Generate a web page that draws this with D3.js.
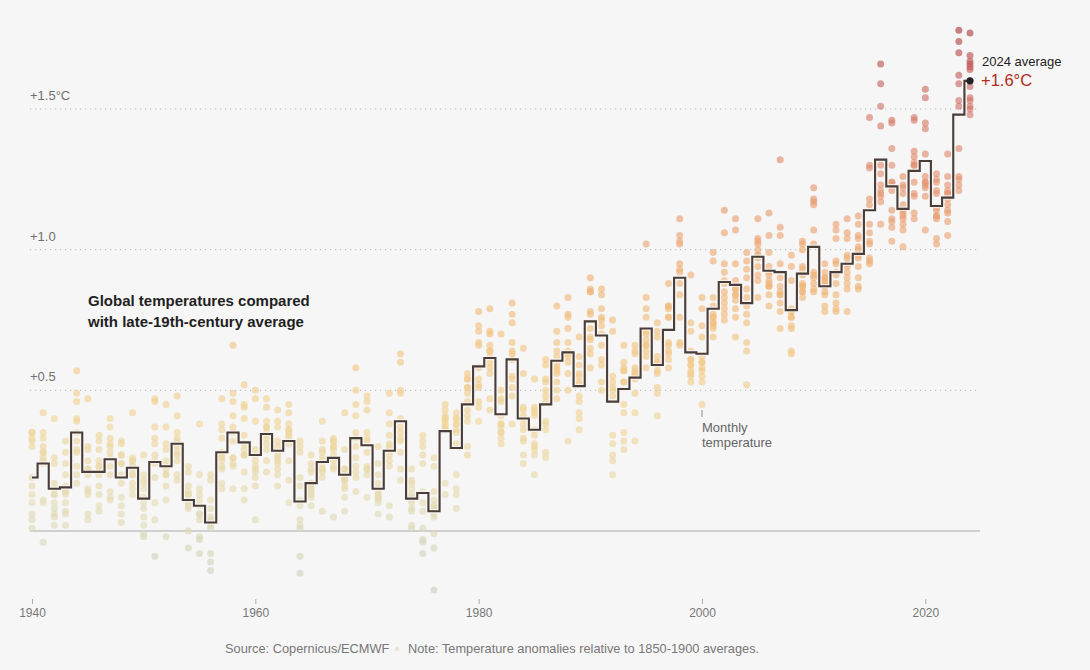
<!DOCTYPE html>
<html>
<head>
<meta charset="utf-8">
<script src="https://cdn.jsdelivr.net/npm/d3@7"></script>
<style>
  body { margin: 0; background: #f6f6f6; }
  svg { display: block; font-family: "Liberation Sans", Arial, sans-serif; }
</style>
</head>
<body>
<div id="chart"></div>
<script>
// annual average anomaly, 1940-2024 (°C vs 1850-1900)
var years = d3.range(1940, 2025);
var annual = [
  0.19, 0.24, 0.15, 0.155, 0.35, 0.21, 0.21, 0.255, 0.19, 0.225,
  0.115, 0.245, 0.23, 0.31, 0.11, 0.09, 0.03, 0.28, 0.35, 0.315,
  0.27, 0.345, 0.285, 0.32, 0.105, 0.17, 0.245, 0.26, 0.20, 0.33,
  0.305, 0.15, 0.285, 0.39, 0.115, 0.135, 0.07, 0.355, 0.295, 0.45,
  0.585, 0.615, 0.415, 0.61, 0.40, 0.36, 0.45, 0.605, 0.635, 0.515,
  0.745, 0.695, 0.46, 0.505, 0.545, 0.72, 0.59, 0.715, 0.90, 0.635,
  0.63, 0.79, 0.885, 0.875, 0.81, 0.975, 0.925, 0.92, 0.785, 0.915,
  1.01, 0.87, 0.92, 0.95, 0.985, 1.14, 1.32, 1.225, 1.145, 1.28,
  1.315, 1.155, 1.185, 1.48, 1.60
];

// monthly anomalies, one row of 12 per year
var monthly1940s = [
  [0.35, 0.33, 0.30, 0.19, 0.16, 0.13, 0.10, 0.06, 0.04, 0.01, 0.35, 0.32],
  [0.42, 0.35, 0.33, 0.28, 0.26, 0.11, 0.10, -0.04, 0.30, 0.28, 0.25, 0.24],
  [0.40, 0.26, 0.24, 0.17, 0.15, 0.13, 0.10, 0.08, 0.06, 0.05, 0.02, 0.13],
  [0.32, 0.28, 0.24, 0.20, 0.14, 0.10, 0.07, 0.06, 0.02, 0.16, 0.14, 0.13],
  [0.57, 0.49, 0.46, 0.40, 0.39, 0.35, 0.32, 0.29, 0.20, 0.17, 0.28, 0.23],
  [0.47, 0.30, 0.29, 0.25, 0.22, 0.15, 0.14, 0.13, 0.06, 0.04, 0.22, 0.20],
  [0.34, 0.32, 0.29, 0.23, 0.21, 0.16, 0.13, 0.09, 0.07, 0.25, 0.23, 0.20],
  [0.40, 0.37, 0.33, 0.30, 0.26, 0.23, 0.20, 0.14, 0.12, 0.11, 0.31, 0.28],
  [0.32, 0.31, 0.27, 0.24, 0.20, 0.17, 0.12, 0.09, 0.06, 0.03, 0.27, 0.24],
  [0.42, 0.26, 0.25, 0.23, 0.20, 0.17, 0.15, 0.13, 0.25, 0.23, 0.22, 0.20]
];
var monthly1950s = [
  [0.27, 0.20, 0.18, 0.17, 0.15, 0.12, 0.10, 0.08, 0.05, 0.02, -0.01, -0.02],
  [0.47, 0.46, 0.37, 0.33, 0.31, 0.24, 0.19, 0.10, 0.04, -0.09, 0.27, 0.25],
  [0.45, 0.37, 0.31, 0.29, 0.25, 0.23, 0.20, 0.16, 0.11, -0.02, 0.22, 0.20],
  [0.48, 0.41, 0.35, 0.33, 0.31, 0.27, 0.25, 0.20, 0.18, 0.32, 0.30, 0.28],
  [0.23, 0.21, 0.16, 0.14, 0.13, 0.09, 0.08, 0.00, -0.06, 0.13, 0.11, 0.10],
  [0.38, 0.20, 0.15, 0.13, 0.11, 0.06, 0.04, -0.02, -0.03, -0.08, 0.09, 0.06],
  [0.20, 0.18, 0.11, 0.08, 0.05, 0.03, -0.08, -0.11, -0.14, 0.04, 0.02, 0.01],
  [0.47, 0.38, 0.36, 0.33, 0.28, 0.27, 0.25, 0.22, 0.17, 0.15, 0.26, 0.23],
  [0.66, 0.49, 0.46, 0.41, 0.37, 0.35, 0.32, 0.26, 0.23, 0.15, 0.26, 0.24],
  [0.52, 0.45, 0.44, 0.40, 0.34, 0.31, 0.27, 0.21, 0.15, 0.11, 0.29, 0.27]
];
var monthly1960s = [
  [0.50, 0.47, 0.39, 0.29, 0.27, 0.25, 0.22, 0.19, 0.16, 0.04, 0.23, 0.21],
  [0.47, 0.44, 0.39, 0.37, 0.34, 0.31, 0.29, 0.25, 0.21, 0.37, 0.35, 0.33],
  [0.43, 0.39, 0.37, 0.32, 0.30, 0.26, 0.24, 0.20, 0.16, 0.27, 0.25, 0.22],
  [0.45, 0.42, 0.38, 0.36, 0.35, 0.31, 0.25, 0.18, 0.10, 0.36, 0.34, 0.33],
  [0.32, 0.30, 0.28, 0.19, 0.16, 0.04, 0.02, 0.01, -0.09, -0.15, 0.11, 0.09],
  [0.27, 0.24, 0.22, 0.21, 0.17, 0.13, 0.12, 0.09, 0.17, 0.16, 0.15, 0.14],
  [0.39, 0.32, 0.29, 0.25, 0.22, 0.19, 0.07, 0.28, 0.26, 0.24, 0.22, 0.21],
  [0.33, 0.32, 0.26, 0.25, 0.23, 0.22, 0.05, 0.32, 0.30, 0.30, 0.29, 0.27],
  [0.42, 0.29, 0.22, 0.18, 0.15, 0.12, 0.07, 0.22, 0.20, 0.19, 0.18, 0.16],
  [0.58, 0.50, 0.45, 0.41, 0.35, 0.33, 0.30, 0.26, 0.23, 0.19, 0.14, 0.21]
];
var monthly1970s = [
  [0.48, 0.46, 0.43, 0.35, 0.33, 0.32, 0.28, 0.23, 0.22, 0.12, 0.22, 0.20],
  [0.30, 0.24, 0.20, 0.17, 0.14, 0.12, 0.10, 0.06, 0.15, 0.13, 0.12, 0.11],
  [0.49, 0.42, 0.38, 0.34, 0.30, 0.25, 0.23, 0.09, 0.05, 0.31, 0.29, 0.27],
  [0.63, 0.60, 0.50, 0.49, 0.35, 0.32, 0.28, 0.22, 0.18, 0.40, 0.37, 0.33],
  [0.22, 0.18, 0.17, 0.15, 0.13, 0.11, 0.02, 0.01, 0.12, 0.10, 0.08, 0.07],
  [0.34, 0.32, 0.30, 0.27, 0.24, 0.14, 0.07, 0.01, -0.03, -0.04, -0.08, 0.10],
  [0.26, 0.23, 0.14, 0.11, 0.09, 0.05, -0.01, -0.06, -0.21, 0.09, 0.08, 0.06],
  [0.45, 0.43, 0.41, 0.40, 0.38, 0.36, 0.17, 0.13, 0.40, 0.39, 0.37, 0.36],
  [0.42, 0.40, 0.38, 0.36, 0.31, 0.20, 0.15, 0.13, 0.08, 0.40, 0.38, 0.35],
  [0.54, 0.51, 0.49, 0.46, 0.43, 0.41, 0.39, 0.30, 0.27, 0.56, 0.54, 0.51]
];
var monthly1980s = [
  [0.78, 0.73, 0.71, 0.67, 0.66, 0.58, 0.52, 0.46, 0.44, 0.39, 0.54, 0.51],
  [0.79, 0.71, 0.70, 0.64, 0.58, 0.56, 0.47, 0.43, 0.66, 0.64, 0.62, 0.60],
  [0.70, 0.50, 0.47, 0.46, 0.41, 0.38, 0.37, 0.35, 0.33, 0.31, 0.38, 0.35],
  [0.81, 0.77, 0.74, 0.63, 0.55, 0.54, 0.51, 0.48, 0.38, 0.67, 0.64, 0.61],
  [0.65, 0.56, 0.44, 0.41, 0.36, 0.33, 0.32, 0.27, 0.24, 0.43, 0.40, 0.38],
  [0.54, 0.44, 0.43, 0.42, 0.41, 0.30, 0.29, 0.27, 0.20, 0.36, 0.34, 0.31],
  [0.61, 0.59, 0.54, 0.53, 0.48, 0.39, 0.38, 0.36, 0.28, 0.26, 0.50, 0.46],
  [0.80, 0.71, 0.67, 0.64, 0.59, 0.57, 0.53, 0.50, 0.47, 0.62, 0.58, 0.56],
  [0.83, 0.77, 0.76, 0.72, 0.67, 0.63, 0.62, 0.56, 0.50, 0.32, 0.64, 0.60],
  [0.69, 0.62, 0.59, 0.56, 0.53, 0.48, 0.46, 0.42, 0.40, 0.36, 0.55, 0.52]
];
var monthly1990s = [
  [0.86, 0.85, 0.78, 0.77, 0.72, 0.69, 0.68, 0.65, 0.63, 0.58, 0.90, 0.85],
  [0.86, 0.84, 0.79, 0.75, 0.70, 0.66, 0.61, 0.59, 0.53, 0.50, 0.76, 0.73],
  [0.75, 0.71, 0.53, 0.51, 0.48, 0.34, 0.31, 0.27, 0.25, 0.20, 0.55, 0.50],
  [0.66, 0.60, 0.58, 0.57, 0.53, 0.53, 0.45, 0.42, 0.35, 0.32, 0.29, 0.57],
  [0.66, 0.64, 0.63, 0.57, 0.56, 0.55, 0.49, 0.42, 0.32, 0.58, 0.56, 0.54],
  [1.02, 0.83, 0.79, 0.76, 0.71, 0.70, 0.68, 0.66, 0.66, 0.64, 0.62, 0.58],
  [0.74, 0.71, 0.69, 0.60, 0.56, 0.51, 0.49, 0.41, 0.62, 0.60, 0.59, 0.57],
  [0.88, 0.80, 0.79, 0.76, 0.67, 0.66, 0.64, 0.63, 0.61, 0.58, 0.80, 0.76],
  [1.11, 1.05, 1.03, 1.02, 0.95, 0.93, 0.92, 0.88, 0.84, 0.76, 0.67, 0.66],
  [0.91, 0.74, 0.71, 0.61, 0.59, 0.57, 0.55, 0.53, 0.64, 0.61, 0.59, 0.56]
];
var monthly2000s = [
  [0.83, 0.79, 0.73, 0.69, 0.60, 0.57, 0.55, 0.53, 0.45, 0.62, 0.60, 0.58],
  [0.99, 0.96, 0.83, 0.80, 0.77, 0.76, 0.74, 0.73, 0.69, 0.76, 0.74, 0.72],
  [1.14, 1.06, 0.95, 0.89, 0.85, 0.83, 0.81, 0.79, 0.77, 0.75, 0.92, 0.88],
  [1.11, 1.07, 0.95, 0.89, 0.86, 0.79, 0.76, 0.69, 0.86, 0.84, 0.84, 0.82],
  [0.99, 0.96, 0.93, 0.90, 0.86, 0.83, 0.77, 0.74, 0.67, 0.64, 0.52, 0.80],
  [1.11, 1.04, 1.03, 1.02, 0.98, 0.94, 0.91, 0.89, 0.83, 1.00, 0.98, 0.97],
  [1.13, 1.05, 0.99, 0.94, 0.92, 0.87, 0.84, 0.80, 0.91, 0.89, 0.88, 0.87],
  [1.32, 1.08, 1.05, 0.95, 0.85, 0.84, 0.81, 0.78, 0.72, 0.90, 0.87, 0.84],
  [0.98, 0.94, 0.89, 0.79, 0.78, 0.76, 0.72, 0.64, 0.63, 0.78, 0.76, 0.73],
  [1.03, 1.02, 1.00, 0.94, 0.93, 0.87, 0.85, 0.83, 0.91, 0.88, 0.87, 0.85]
];
var monthly2010s = [
  [1.22, 1.18, 1.17, 1.16, 1.07, 1.02, 0.92, 0.91, 0.85, 0.90, 0.88, 0.86],
  [0.95, 0.92, 0.90, 0.89, 0.87, 0.84, 0.80, 0.78, 0.90, 0.88, 0.87, 0.85],
  [1.09, 1.07, 1.04, 0.96, 0.95, 0.92, 0.88, 0.84, 0.81, 0.79, 0.78, 0.91],
  [1.11, 1.06, 1.04, 0.98, 0.97, 0.94, 0.90, 0.88, 0.86, 0.78, 0.95, 0.92],
  [1.12, 1.09, 1.05, 1.04, 1.01, 0.94, 0.90, 0.87, 0.86, 1.00, 0.98, 0.97],
  [1.47, 1.30, 1.29, 1.18, 1.16, 1.09, 1.06, 1.03, 0.96, 0.95, 1.02, 0.97],
  [1.66, 1.59, 1.51, 1.44, 1.30, 1.27, 1.20, 1.17, 1.09, 1.23, 1.21, 1.19],
  [1.46, 1.45, 1.36, 1.30, 1.24, 1.21, 1.14, 1.11, 1.10, 1.08, 1.03, 1.24],
  [1.26, 1.23, 1.22, 1.20, 1.09, 1.07, 1.01, 1.16, 1.14, 1.13, 1.12, 1.11],
  [1.47, 1.46, 1.35, 1.30, 1.24, 1.20, 1.19, 1.13, 1.11, 1.33, 1.31, 1.30]
];
var monthly2020s = [
  [1.57, 1.54, 1.45, 1.43, 1.34, 1.24, 1.23, 1.19, 1.07, 1.26, 1.24, 1.22],
  [1.27, 1.25, 1.24, 1.21, 1.20, 1.14, 1.12, 1.11, 1.04, 1.02, 1.15, 1.12],
  [1.34, 1.26, 1.20, 1.18, 1.16, 1.14, 1.13, 1.10, 1.05, 1.23, 1.21, 1.20],
  [1.78, 1.74, 1.70, 1.53, 1.51, 1.36, 1.26, 1.25, 1.23, 1.21, 1.62, 1.59],
  [1.77, 1.69, 1.67, 1.65, 1.58, 1.54, 1.53, 1.51, 1.50, 1.48, 1.66, 1.64]
];

var yTicks = [0.5, 1.0, 1.5];
var yTickLabels = ["+0.5", "+1.0", "+1.5°C"];
var xTicks = [1940, 1960, 1980, 2000, 2020];

var monthly = [].concat(monthly1940s, monthly1950s, monthly1960s, monthly1970s,
  monthly1980s, monthly1990s, monthly2000s, monthly2010s, monthly2020s);

var w = 1090, h = 670;
var left = 30, right = 980;

var svg = d3.select("#chart").append("svg")
    .attr("width", w)
    .attr("height", h);

var xScale = d3.scaleLinear().domain([1940, 2024]).range([32, 970]);
var yScale = d3.scaleLinear().domain([0, 1.5]).range([531, 109]);

var color = d3.scaleLinear()
    .domain([-0.2, 0.1, 0.4, 0.7, 1.0, 1.3, 1.55, 1.8])
    .range(["#cdcfc2", "#e4dcb4", "#f1d495", "#f2c27f", "#eeaa74", "#e28f70", "#cf716a", "#a9393b"])
    .clamp(true);

// gridlines
svg.selectAll(".grid")
   .data(yTicks)
   .enter()
   .append("line")
   .attr("class", "grid")
   .attr("x1", left)
   .attr("x2", right)
   .attr("y1", function(d) { return yScale(d); })
   .attr("y2", function(d) { return yScale(d); })
   .attr("stroke", "#b5b5b5")
   .attr("stroke-width", 1)
   .attr("stroke-dasharray", "1.2,3.8");

svg.selectAll(".ylabel")
   .data(yTicks)
   .enter()
   .append("text")
   .attr("class", "ylabel")
   .attr("x", left)
   .attr("y", function(d) { return yScale(d) - 9; })
   .attr("fill", "#707070")
   .attr("font-size", 13)
   .text(function(d, i) { return yTickLabels[i]; });

// zero line
svg.append("line")
   .attr("x1", left)
   .attr("x2", right)
   .attr("y1", yScale(0))
   .attr("y2", yScale(0))
   .attr("stroke", "#a8a8a8")
   .attr("stroke-width", 1.2);

// x axis
var xAxis = d3.axisBottom(xScale)
    .tickValues(xTicks)
    .tickFormat(d3.format("d"))
    .tickSize(5)
    .tickPadding(4);
var gx = svg.append("g")
   .attr("transform", "translate(0,599)")
   .call(xAxis);
gx.select(".domain").remove();
gx.selectAll("line").attr("stroke", "#aaa");
gx.selectAll("text")
  .attr("fill", "#777")
  .attr("font-size", 12)
  .attr("font-family", "Liberation Sans, Arial, sans-serif");

// monthly dots
var points = [];
years.forEach(function(yr, i) {
  monthly[i].forEach(function(v) {
    points.push({ year: yr, value: v });
  });
});

svg.selectAll(".month")
   .data(points)
   .enter()
   .append("circle")
   .attr("class", "month")
   .attr("cx", function(d) { return xScale(d.year); })
   .attr("cy", function(d) { return yScale(d.value); })
   .attr("r", 3.5)
   .attr("fill", function(d) { return color(d.value); })
   .attr("fill-opacity", 0.64);

// annual step line
var yearData = years.map(function(yr, i) { return { year: yr, value: annual[i] }; });
var stepLine = d3.line()
    .x(function(d) { return xScale(d.year); })
    .y(function(d) { return yScale(d.value); })
    .curve(d3.curveStep);

svg.append("path")
   .datum(yearData)
   .attr("d", stepLine)
   .attr("fill", "none")
   .attr("stroke", "#f6f6f6")
   .attr("stroke-opacity", 0.8)
   .attr("stroke-width", 4.5);
svg.append("path")
   .datum(yearData)
   .attr("d", stepLine)
   .attr("fill", "none")
   .attr("stroke", "#4a3d37")
   .attr("stroke-width", 2.1);

var last = yearData[yearData.length - 1];
svg.append("circle")
   .attr("cx", xScale(last.year))
   .attr("cy", yScale(last.value))
   .attr("r", 3.6)
   .attr("fill", "#222");

svg.append("text")
   .attr("x", 982)
   .attr("y", 66)
   .attr("font-size", 13)
   .attr("fill", "#222")
   .text("2024 average");
svg.append("text")
   .attr("x", 981)
   .attr("y", 86)
   .attr("font-size", 16.5)
   .attr("fill", "#b02a20")
   .text("+" + d3.format(".1f")(last.value) + "°C");

// title
var title = svg.append("text")
   .attr("x", 88)
   .attr("font-size", 15)
   .attr("font-weight", "bold")
   .attr("fill", "#1f1f1f");
title.append("tspan").attr("x", 88).attr("y", 306).text("Global temperatures compared");
title.append("tspan").attr("x", 88).attr("y", 327).text("with late-19th-century average");

// monthly annotation
svg.append("line")
   .attr("x1", xScale(2000))
   .attr("x2", xScale(2000))
   .attr("y1", 410)
   .attr("y2", 417)
   .attr("stroke", "#888")
   .attr("stroke-width", 1);
var note = svg.append("text")
   .attr("font-size", 13)
   .attr("fill", "#666");
note.append("tspan").attr("x", xScale(2000)).attr("y", 432).text("Monthly");
note.append("tspan").attr("x", xScale(2000)).attr("y", 447).text("temperature");

// source line
svg.append("text")
   .attr("x", 225)
   .attr("y", 653)
   .attr("font-size", 12.8)
   .attr("fill", "#777")
   .text("Source: Copernicus/ECMWF");
svg.append("circle")
   .attr("cx", 397)
   .attr("cy", 649)
   .attr("r", 2)
   .attr("fill", "#e8e2cc");
svg.append("text")
   .attr("x", 408)
   .attr("y", 653)
   .attr("font-size", 12.8)
   .attr("fill", "#777")
   .text("Note: Temperature anomalies relative to 1850-1900 averages.");
</script>
</body>
</html>
